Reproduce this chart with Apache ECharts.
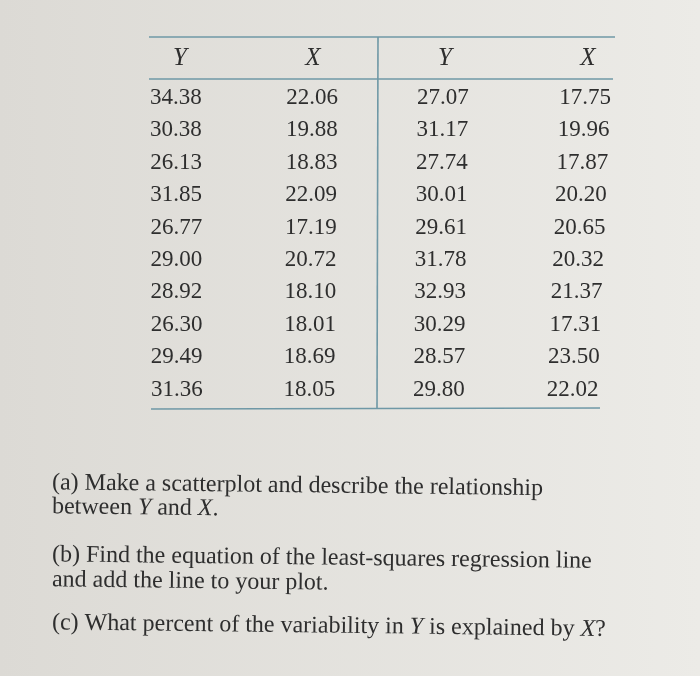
<!DOCTYPE html>
<html><head><meta charset="utf-8">
<script src="https://cdn.jsdelivr.net/npm/echarts@6/dist/echarts.min.js"></script>
<style>html,body{margin:0;padding:0}#c{width:700px;height:676px}</style>
</head><body><div id="c"></div>
<script>
var headers = ['Y', 'X', 'Y', 'X'];
var y1 = ['34.38','30.38','26.13','31.85','26.77','29.00','28.92','26.30','29.49','31.36'];
var x1 = ['22.06','19.88','18.83','22.09','17.19','20.72','18.10','18.01','18.69','18.05'];
var y2 = ['27.07','31.17','27.74','30.01','29.61','31.78','32.93','30.29','28.57','29.80'];
var x2 = ['17.75','19.96','17.87','20.20','20.65','20.32','21.37','17.31','23.50','22.02'];
var questions = [
  '(a) Make a scatterplot and describe the relationship',
  'between {i|Y} and {i|X}.',
  '(b) Find the equation of the least-squares regression line',
  'and add the line to your plot.',
  '(c) What percent of the variability in {i|Y} is explained by {i|X}?'
];

var fam = 'Liberation Serif';
var txtColor = '#2e2e2e';
var lineColor = '#6f98a6';
var g = [];
function t(x, y, s, align, size, italic, rot) {
  g.push({type:'text', x:x, y:y, rotation:rot||0, style:{text:s, fill:txtColor, fontFamily:fam, fontSize:size, fontStyle:italic?'italic':'normal',
    align:align, verticalAlign:'middle',
    rich:{i:{fontStyle:'italic', fontSize:size, fontFamily:fam, fill:txtColor}}}});
}
function ln(a, b, c, d) {
  g.push({type:'line', shape:{x1:a, y1:b, x2:c, y2:d}, style:{stroke:lineColor, lineWidth:1.6}});
}
ln(149, 37, 615, 37);
ln(149, 79, 613, 79);
ln(151, 409, 600, 408);
ln(378, 37, 377, 409);
var hx = [180, 313, 445, 588];
headers.forEach(function(h, i){ t(hx[i], 58, h, 'center', 25, true); });
var cols = [[y1,150,'left',0.1],[x1,338,'right',-0.3],[y2,417,'left',-0.45],[x2,611,'right',-1.4]];
cols.forEach(function(c){
  c[0].forEach(function(v, r){
    t(c[1] + c[3]*r, 98 + r*32.4, v, c[2], 23, false);
  });
});
var qy = [483, 507, 555, 580, 623];
questions.forEach(function(q, i){ t(52, qy[i], q, 'left', 24, false, -0.012); });
var chart = echarts.init(document.getElementById('c'));
chart.setOption({
  backgroundColor: {type:'linear', x:0, y:0, x2:1, y2:0, colorStops:[{offset:0,color:'#dcdad5'},{offset:1,color:'#ecebe7'}]},
  graphic: g
});
</script></body></html>
